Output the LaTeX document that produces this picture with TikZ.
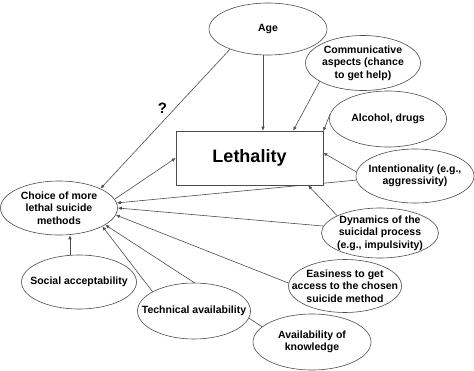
\documentclass[tikz,border=0pt]{standalone}
\usepackage{fontspec}
\setmainfont{Liberation Sans}
\usetikzlibrary{shapes.geometric,arrows.meta,backgrounds}

\begin{document}
\begin{tikzpicture}[x=1pt, y=-1pt, >={Latex[length=4pt,width=3.5pt]},
  font=\bfseries\fontsize{10.5}{12.5}\selectfont,
  factor/.style={ellipse, draw=black!70, line width=0.6pt, fill=white,
    minimum width=117pt, minimum height=54pt, inner sep=0pt},
  txt/.style={align=center, inner sep=0pt},
  link/.style={->, draw=black!70, line width=0.6pt}]
\useasboundingbox (0,0) rectangle (474,370);
\node[draw=black!70, line width=0.6pt, fill=white, minimum width=147pt, minimum height=54pt,
  font=\bfseries\fontsize{18}{20}\selectfont] (leth) at (249.5,158) {Lethality};
\node[factor, minimum width=118pt, minimum height=52pt, label={[txt]center:Age}] (age) at (268,29) {};
\node[factor, minimum width=115pt, minimum height=55pt,
  label={[txt]center:Communicative\\aspects (chance\\to get help)}] (comm) at (363,63) {};
\node[factor, minimum height=56pt, label={[txt]center:Alcohol, drugs}] (alc) at (388,119) {};
\node[factor, minimum width=118pt, label={[txt]center:Intentionality (e.g.,\\aggressivity)}] (intent) at (415,176) {};
\node[factor, minimum height=50pt,
  label={[txt]center:Dynamics of the\\suicidal process\\(e.g., impulsivity)}] (dyn) at (380,233) {};
\node[factor, minimum width=113pt, minimum height=53pt,
  label={[txt]center:Easiness to get\\access to the chosen\\suicide method}] (eas) at (345,286) {};
\node[factor, label={[txt]center:Choice of more\\lethal suicide\\methods}] (choice) at (59,208) {};
\node[factor, minimum width=115pt, label={[txt]center:Social acceptability}] (social) at (79,282) {};
\node[factor, minimum width=113pt, minimum height=56pt, label={[txt]center:Technical availability}] (tech) at (194,311) {};
\node[factor, minimum width=118pt, minimum height=56pt,
  label={[txt]center:Availability of\\knowledge}] (know) at (312,342) {};
% connectors behind the filled shapes
\begin{scope}[on background layer]
\draw[link] ([xshift=-5pt]age.south) -- ([xshift=-5pt]age.south |- leth.north);
\draw[link] (age.208) -- node[pos=0.42, left=5pt, font=\bfseries\fontsize{15}{15}\selectfont] (qm) {?} (choice.25);
\draw[link] (comm.203) -- (leth.32);
\draw[link] (alc.175) -- (leth.20);
\draw[link] (intent.176) -- (leth.4);
\draw[link] (dyn.158) -- (leth.335);
\draw[link] (choice.9) -- (leth.west);
\foreach \src/\a/\b in {intent/184/5, dyn/173/0, eas/177/353, tech/155/337, know/163/340}
  \draw[link] (\src.\a) -- (choice.\b);
\draw[link] ([xshift=-9pt]social.north) -- ([xshift=-9pt]social.north |- choice.south);
\end{scope}
\end{tikzpicture}
\end{document}
